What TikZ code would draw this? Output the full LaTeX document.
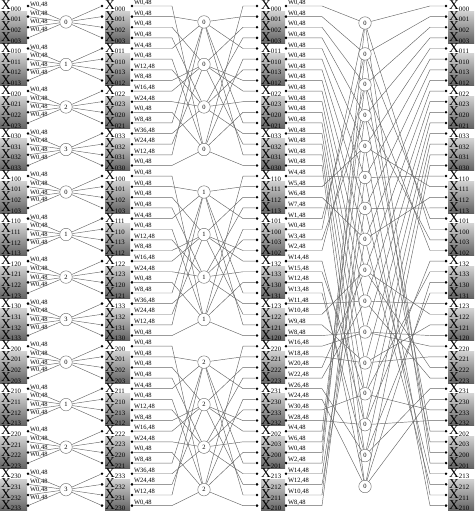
\documentclass[tikz,border=0pt]{standalone}
\usepackage{fontspec}
\setmainfont{Liberation Serif}
\usetikzlibrary{calc}

\newcommand{\Xlab}[1]{X\raisebox{-1.5pt}{\fontsize{6.8}{6.8}\selectfont #1}}
\newcommand{\Wlab}[1]{W#1,48}

\tikzset{
  xname/.style={anchor=west, inner sep=0pt, font=\fontsize{13.5}{13.5}\selectfont},
  wname/.style={anchor=south west, inner sep=0.3pt, font=\fontsize{6.5}{6.5}\selectfont},
  dot/.style={circle, fill=black, inner sep=0pt, minimum size=2.8pt},
  bfly/.style={circle, draw=black!60, fill=white, inner sep=0pt, minimum size=12.5pt, font=\fontsize{6.5}{6.5}\selectfont},
  wire/.style={black!60, line width=0.45pt},
  grp/.style={top color=black!18, bottom color=black!62, draw=none},
}

\begin{document}
\begin{tikzpicture}[x=1pt, y=-1pt]
  \useasboundingbox (0,0) rectangle (474,511);

  %% shaded boxes (rows 1..3 of every group)
  \foreach \g in {0,...,11}{
    \pgfmathsetmacro\ya{6+10.63*(4*\g)+5.3}
    \pgfmathsetmacro\yb{6+10.63*(4*\g+3)+5.3}
    \foreach \xa/\xb in {0/27, 105/130, 261/285, 448/474}
      \shade[grp] (\xa,\ya) rectangle (\xb,\yb);
  }

  %% column 1
  \foreach \a in {0,1,2}
  \foreach \b in {0,...,3}
  \foreach \c/\sh in {0/1,1/3,2/5,3/8}{
    \pgfmathtruncatemacro\i{16*\a+4*\b+\c}
    \pgfmathsetmacro\ry{6+10.63*\i}
    \node[xname] (xa\i) at (1,\ry) {\Xlab{\a\b\c}};
    \node[dot] (ar\i) at (28,\ry) {};
    \node[wname, anchor=west, yshift=\sh pt] (wa\i) at (ar\i.east) {\Wlab{0}};
  }

  %% column 2
  \foreach \a in {0,1,2}
  \foreach \s/\w [count=\k from 0] in {00/0,01/0,02/0,03/0,11/4,10/0,13/12,12/8,
      22/16,23/24,20/0,21/8,33/36,32/24,31/12,30/0}{
    \pgfmathtruncatemacro\i{16*\a+\k}
    \pgfmathsetmacro\ry{6+10.63*\i}
    \node[dot] (bl\i) at (102,\ry) {};
    \node[xname] (xb\i) at (105,\ry) {\Xlab{\a\s}};
    \node[dot] (br\i) at (132,\ry) {};
    \node[wname] (wb\i) at (br\i.east) {\Wlab{\w}};
  }

  %% columns 3 and 4
  \foreach \s/\w [count=\i from 0] in {000/0,001/0,002/0,003/0,011/0,010/0,013/0,012/0,
      022/0,023/0,020/0,021/0,033/0,032/0,031/0,030/0,
      110/4,111/5,112/6,113/7,101/1,100/0,103/3,102/2,
      132/14,133/15,130/12,131/13,123/11,122/10,121/9,120/8,
      220/16,221/18,222/20,223/22,231/26,230/24,233/30,232/28,
      202/4,203/6,200/0,201/2,213/14,212/12,211/10,210/8}{
    \pgfmathsetmacro\ry{6+10.63*\i}
    \node[dot] (cl\i) at (257,\ry) {};
    \node[xname] (xc\i) at (261,\ry) {\Xlab{\s}};
    \node[dot] (cr\i) at (286,\ry) {};
    \node[wname] (wc\i) at (cr\i.east) {\Wlab{\w}};
    \node[dot] (dl\i) at (446,\ry) {};
    \node[xname] (xd\i) at (449,\ry) {\Xlab{\s}};
  }

  %% stage 1
  \foreach \g in {0,...,11}{
    \pgfmathtruncatemacro\lab{mod(\g,4)}
    \pgfmathsetmacro\cy{6+10.63*(4*\g+1.5)}
    \node[bfly] (sa\g) at (66,\cy) {\lab};
    \foreach \c in {0,...,3}{
      \pgfmathtruncatemacro\i{4*\g+\c}
      \draw[wire] (ar\i) -- (sa\g);
      \draw[wire] (sa\g) -- (bl\i);
    }
  }

  %% stage 2
  \foreach \a in {0,1,2}
  \foreach \m/\rr in {0/{1,4,11,14}, 1/{2,7,8,13}, 2/{3,6,9,12}, 3/{0,5,10,15}}{
    \pgfmathtruncatemacro\g{4*\a+\m}
    \pgfmathsetmacro\cy{6+10.63*(4*\g+1.5)}
    \node[bfly] (sb\g) at (204,\cy) {\a};
    \foreach \r in \rr{
      \pgfmathtruncatemacro\i{16*\a+\r}
      \draw[wire] (br\i) -- ++(40,0) -- (sb\g);
      \draw[wire] (sb\g) -- ($(cl\i)+(-14,0)$) -- (cl\i);
    }
  }

  %% stage 3
  \foreach \k/\p/\q in {0/5/10, 1/4/11, 2/7/8, 3/6/9, 4/1/14, 5/0/15, 6/3/12, 7/2/13,
      8/13/2, 9/12/3, 10/15/0, 11/14/1, 12/9/6, 13/8/7, 14/11/4, 15/10/5}{
    \pgfmathsetmacro\cy{23+30.9*\k}
    \node[bfly] (sc\k) at (365,\cy) {0};
    \pgfmathtruncatemacro\ib{16+\p}
    \pgfmathtruncatemacro\ic{32+\q}
    \foreach \i in {\k,\ib,\ic}{
      \draw[wire] (cr\i) -- ++(36,0) -- (sc\k);
      \draw[wire] (sc\k) -- ($(dl\i)+(-16,0)$) -- (dl\i);
    }
  }
\end{tikzpicture}
\end{document}
